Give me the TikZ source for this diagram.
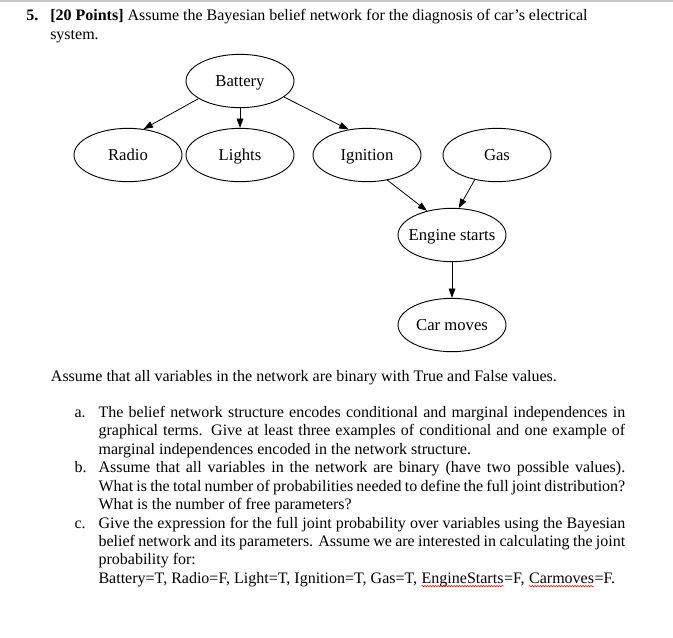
\documentclass[tikz,border=0pt]{standalone}
\usepackage{fontspec}
\setmainfont{Liberation Serif}
\usepackage{tikz}
\usetikzlibrary{arrows.meta, shapes.geometric, decorations.pathmorphing}

% red spell-check wave under a word
\newcommand{\spellwave}[1]{\tikz[baseline=(w.base)]{\node[inner sep=0pt] (w) {#1};
    \draw[red, line width=0.4pt, decorate, decoration={snake, amplitude=0.55pt, segment length=2pt}]
    ([yshift=-2.2pt]w.base west) -- ([yshift=-2.2pt]w.base east);}}

\begin{document}
\begin{tikzpicture}[x=0.75pt, y=-0.75pt,
    font=\fontsize{12}{13.8}\selectfont,
    var/.style={ellipse, draw, line width=0.7pt, minimum width=81pt, minimum height=40pt,
        inner xsep=-5pt, inner ysep=0pt, text height=10pt, text depth=2.5pt,
        font=\fontsize{12.5}{15}\selectfont},
    arrow/.style={->, >={Triangle[length=7pt, width=5pt]}, line width=0.6pt},
    para/.style={text width=395pt, align=justify, anchor=base west, inner sep=0pt,
        execute at begin node={\spaceskip=0.25em plus 0.25em minus 0.12em}},
    txt/.style={anchor=base west, inner sep=0pt, align=left}
]
\useasboundingbox (0,0) rectangle (673,637);

% page edge
\draw[black!22, line width=0.8pt] (0,1) -- (673,1);

% Question heading (base is the last line)
\node[txt] (num) at (26,20.7) {\textbf{5.}};
\node[txt] (head) at (50,39.1) {\textbf{[20 Points]} Assume the Bayesian belief network for the diagnosis of car’s electrical\\system.};

% Define variables
\node[var] (battery) at (240,81) {Battery};
\node[var] (radio) at (128,155) {Radio};
\node[var] (lights) at (240,155) {Lights};
\node[var] (ignition) at (367,155) {Ignition};
\node[var] (gas) at (497,155) {Gas};
\node[var] (engine) at (452,235) {Engine starts};
\node[var] (carmoves) at (452,325) {Car moves};

% Dependencies
\path[arrow]
    (battery.203) edge (radio.59)
    (battery) edge (lights)
    (battery.340) edge (ignition.126)
    (ignition.309) edge (engine.136)
    (gas.228) edge (engine.76)
    (engine) edge (carmoves);

% Text of the question
\node[txt] (intro) at (50.7,381.7) {Assume that all variables in the network are binary with True and False values.};

\node[txt] (la) at (74.3,417.5) {a.};
\node[para] (parta) at (98.3,417.5) {The belief network structure encodes conditional and marginal independences in\linebreak
graphical terms. Give at least three examples of conditional and one example of\linebreak
marginal independences encoded in the network structure.};

\node[txt] (lb) at (74.3,472.8) {b.};
\node[para] (partb) at (98.3,472.8) {Assume that all variables in the network are binary (have two possible values).\linebreak
What is the total number of probabilities needed to define the full joint distribution?\linebreak
What is the number of free parameters?};

\node[txt] (lc) at (74.3,528) {c.};
\node[para] (partc) at (98.3,528) {Give the expression for the full joint probability over variables using the Bayesian\linebreak
belief network and its parameters. Assume we are interested in calculating the joint\linebreak
probability for:\newline
Battery=T, Radio=F, Light=T, Ignition=T, Gas=T, \spellwave{EngineStarts}=F, \spellwave{Carmoves}=F.};

\end{tikzpicture}
\end{document}
